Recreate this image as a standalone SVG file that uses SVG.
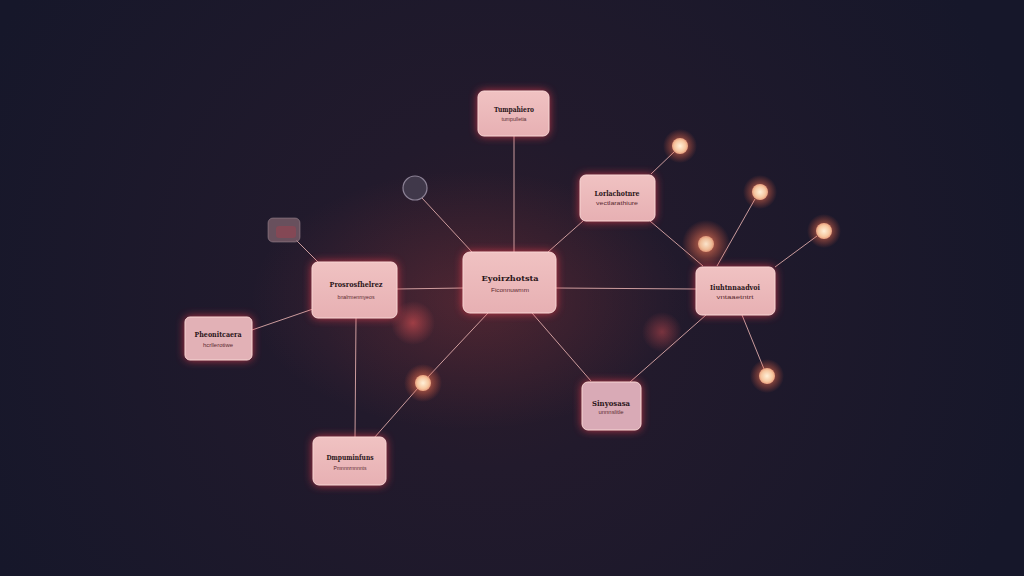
<svg xmlns="http://www.w3.org/2000/svg" width="1024" height="576" viewBox="0 0 1024 576">
<defs>
<radialGradient id="bg" cx="490" cy="300" r="560" gradientUnits="userSpaceOnUse">
<stop offset="0" stop-color="#2e1c2a"/>
<stop offset="0.3" stop-color="#221a2c"/>
<stop offset="1" stop-color="#16172a"/>
</radialGradient>
<radialGradient id="haze" cx="0.5" cy="0.5" r="0.5">
<stop offset="0" stop-color="#ff5a5a" stop-opacity="0.55"/>
<stop offset="1" stop-color="#ff5a5a" stop-opacity="0"/>
</radialGradient>
<radialGradient id="dot" cx="0.5" cy="0.5" r="0.5">
<stop offset="0" stop-color="#fff0d8"/>
<stop offset="0.7" stop-color="#f6c7a0"/>
<stop offset="1" stop-color="#e9a080"/>
</radialGradient>
<radialGradient id="dotglow" cx="0.5" cy="0.5" r="0.5">
<stop offset="0" stop-color="#ff8a60" stop-opacity="0.8"/>
<stop offset="1" stop-color="#ff6040" stop-opacity="0"/>
</radialGradient>
<linearGradient id="box" x1="0" y1="0" x2="0" y2="1">
<stop offset="0" stop-color="#f0c2c2"/>
<stop offset="1" stop-color="#e7b0b3"/>
</linearGradient>
<filter id="glow" x="-50%" y="-50%" width="200%" height="200%">
<feGaussianBlur stdDeviation="5"/>
</filter>
<style>
.edge{stroke:#e8b2b0;stroke-width:1;fill:none;opacity:0.85}
.halo{fill:#ff3f4f;opacity:0.75;filter:url(#glow)}
.card{fill:url(#box);stroke:#f7d6d4;stroke-width:1}
.t1{font-family:"DejaVu Serif","Liberation Serif",serif;font-size:8px;font-weight:bold;fill:#2a1418;text-anchor:middle}
.t2{font-family:"Liberation Sans",Arial,sans-serif;font-size:5px;fill:#5a2a30;text-anchor:middle}
</style>
</defs>
<rect width="1024" height="576" fill="url(#bg)"/>
<ellipse cx="470" cy="300" rx="220" ry="130" fill="url(#haze)" opacity="0.3"/>
<circle cx="413" cy="323" r="22" fill="url(#haze)" opacity="0.9"/>
<circle cx="662" cy="332" r="20" fill="url(#haze)" opacity="0.7"/>

<g id="connectors">
<line class="edge" x1="514" y1="136" x2="514" y2="252"/>
<line class="edge" x1="583" y1="221" x2="548" y2="252"/>
<line class="edge" x1="651" y1="174" x2="674" y2="152"/>
<line class="edge" x1="650" y1="221" x2="703" y2="266"/>
<line class="edge" x1="397" y1="289" x2="463" y2="288"/>
<line class="edge" x1="556" y1="288" x2="696" y2="289"/>
<line class="edge" x1="532" y1="313" x2="591" y2="381"/>
<line class="edge" x1="488" y1="313" x2="427" y2="378"/>
<line class="edge" x1="418" y1="388" x2="374" y2="438"/>
<line class="edge" x1="313" y1="309" x2="252" y2="330"/>
<line class="edge" x1="356" y1="318" x2="355" y2="437"/>
<line class="edge" x1="296" y1="240" x2="318" y2="262"/>
<line class="edge" x1="422" y1="198" x2="472" y2="252" opacity="0.6"/>
<line class="edge" x1="755" y1="199" x2="717" y2="266"/>
<line class="edge" x1="817" y1="236" x2="775" y2="267"/>
<line class="edge" x1="742" y1="315" x2="764" y2="369"/>
<line class="edge" x1="706" y1="315" x2="630" y2="382"/>
</g>

<g id="dots">
<circle cx="680" cy="146" r="17" fill="url(#dotglow)"/>
<circle cx="680" cy="146" r="8" fill="url(#dot)"/>
<circle cx="760" cy="192" r="17" fill="url(#dotglow)"/>
<circle cx="760" cy="192" r="8" fill="url(#dot)"/>
<circle cx="824" cy="231" r="17" fill="url(#dotglow)"/>
<circle cx="824" cy="231" r="8" fill="url(#dot)"/>
<circle cx="706" cy="244" r="24" fill="url(#dotglow)"/>
<circle cx="706" cy="244" r="8" fill="url(#dot)" opacity="0.9"/>
<circle cx="767" cy="376" r="17" fill="url(#dotglow)"/>
<circle cx="767" cy="376" r="8" fill="url(#dot)"/>
<circle cx="423" cy="383" r="19" fill="url(#dotglow)"/>
<circle cx="423" cy="383" r="8" fill="url(#dot)"/>
<circle cx="415" cy="188" r="12" fill="#40384a" stroke="#8c8296" stroke-width="1.2"/>
<rect x="268" y="218" width="32" height="24" rx="5" fill="#7a5e6a" opacity="0.8"/>
<rect x="276" y="226" width="20" height="12" rx="3" fill="#a0404e" opacity="0.5"/>
<rect x="268" y="218" width="32" height="24" rx="5" fill="none" stroke="#a8969f" stroke-width="0.8" opacity="0.6"/>
</g>

<g id="nodeA">
<rect class="halo" x="478" y="91" width="71" height="45" rx="6"/>
<rect class="card" x="478" y="91" width="71" height="45" rx="6"/>
<text class="t1" x="514" y="112" textLength="40" lengthAdjust="spacingAndGlyphs">Tumpahiero</text>
<text class="t2" x="514" y="121" textLength="25" lengthAdjust="spacingAndGlyphs">tumpulletia</text>
</g>
<g id="nodeB">
<rect class="halo" x="580" y="175" width="75" height="46" rx="6"/>
<rect class="card" x="580" y="175" width="75" height="46" rx="6"/>
<text class="t1" x="617" y="196" textLength="45" lengthAdjust="spacingAndGlyphs">Lorlachotnre</text>
<text class="t2" x="617" y="205" textLength="42" lengthAdjust="spacingAndGlyphs">vectlarathiure</text>
</g>
<g id="nodeC">
<rect class="halo" x="463" y="252" width="93" height="61" rx="7"/>
<rect class="card" x="463" y="252" width="93" height="61" rx="7"/>
<text class="t1" x="510" y="281" textLength="57" lengthAdjust="spacingAndGlyphs">Eyoirzhotsta</text>
<text class="t2" x="510" y="292" textLength="38" lengthAdjust="spacingAndGlyphs">Ficonnuwmm</text>
</g>
<g id="nodeD">
<rect class="halo" x="312" y="262" width="85" height="56" rx="6"/>
<rect class="card" x="312" y="262" width="85" height="56" rx="6"/>
<text class="t1" x="356" y="287" textLength="53" lengthAdjust="spacingAndGlyphs">Prosrosfhelrez</text>
<text class="t2" x="356" y="299" textLength="37" lengthAdjust="spacingAndGlyphs">bnalrmenmyeos</text>
</g>
<g id="nodeE">
<rect class="halo" x="185" y="317" width="67" height="43" rx="5" opacity="0.45"/>
<rect class="card" x="185" y="317" width="67" height="43" rx="5" style="fill:#e2b1b6"/>
<text class="t1" x="218" y="337" textLength="47" lengthAdjust="spacingAndGlyphs">Pheonitcaera</text>
<text class="t2" x="218" y="347" textLength="30" lengthAdjust="spacingAndGlyphs">hcrllerotiwe</text>
</g>
<g id="nodeF">
<rect class="halo" x="696" y="267" width="79" height="48" rx="6"/>
<rect class="card" x="696" y="267" width="79" height="48" rx="6"/>
<text class="t1" x="735" y="290" textLength="50" lengthAdjust="spacingAndGlyphs">Iiuhtnnaadvoi</text>
<text class="t2" x="735" y="299" textLength="37" lengthAdjust="spacingAndGlyphs">vntaaetntrt</text>
</g>
<g id="nodeG">
<rect class="halo" x="582" y="382" width="59" height="48" rx="6" opacity="0.4"/>
<rect class="card" x="582" y="382" width="59" height="48" rx="6" style="fill:#d9aab6"/>
<text class="t1" x="611" y="406" textLength="38" lengthAdjust="spacingAndGlyphs">Sinyosasa</text>
<text class="t2" x="611" y="414" textLength="25" lengthAdjust="spacingAndGlyphs">unnnslitle</text>
</g>
<g id="nodeH">
<rect class="halo" x="313" y="437" width="73" height="48" rx="6"/>
<rect class="card" x="313" y="437" width="73" height="48" rx="6"/>
<text class="t1" x="350" y="460" textLength="47" lengthAdjust="spacingAndGlyphs">Dmpuminfuns</text>
<text class="t2" x="350" y="470" textLength="33" lengthAdjust="spacingAndGlyphs">Pmnnnrnnnnts</text>
</g>
</svg>
